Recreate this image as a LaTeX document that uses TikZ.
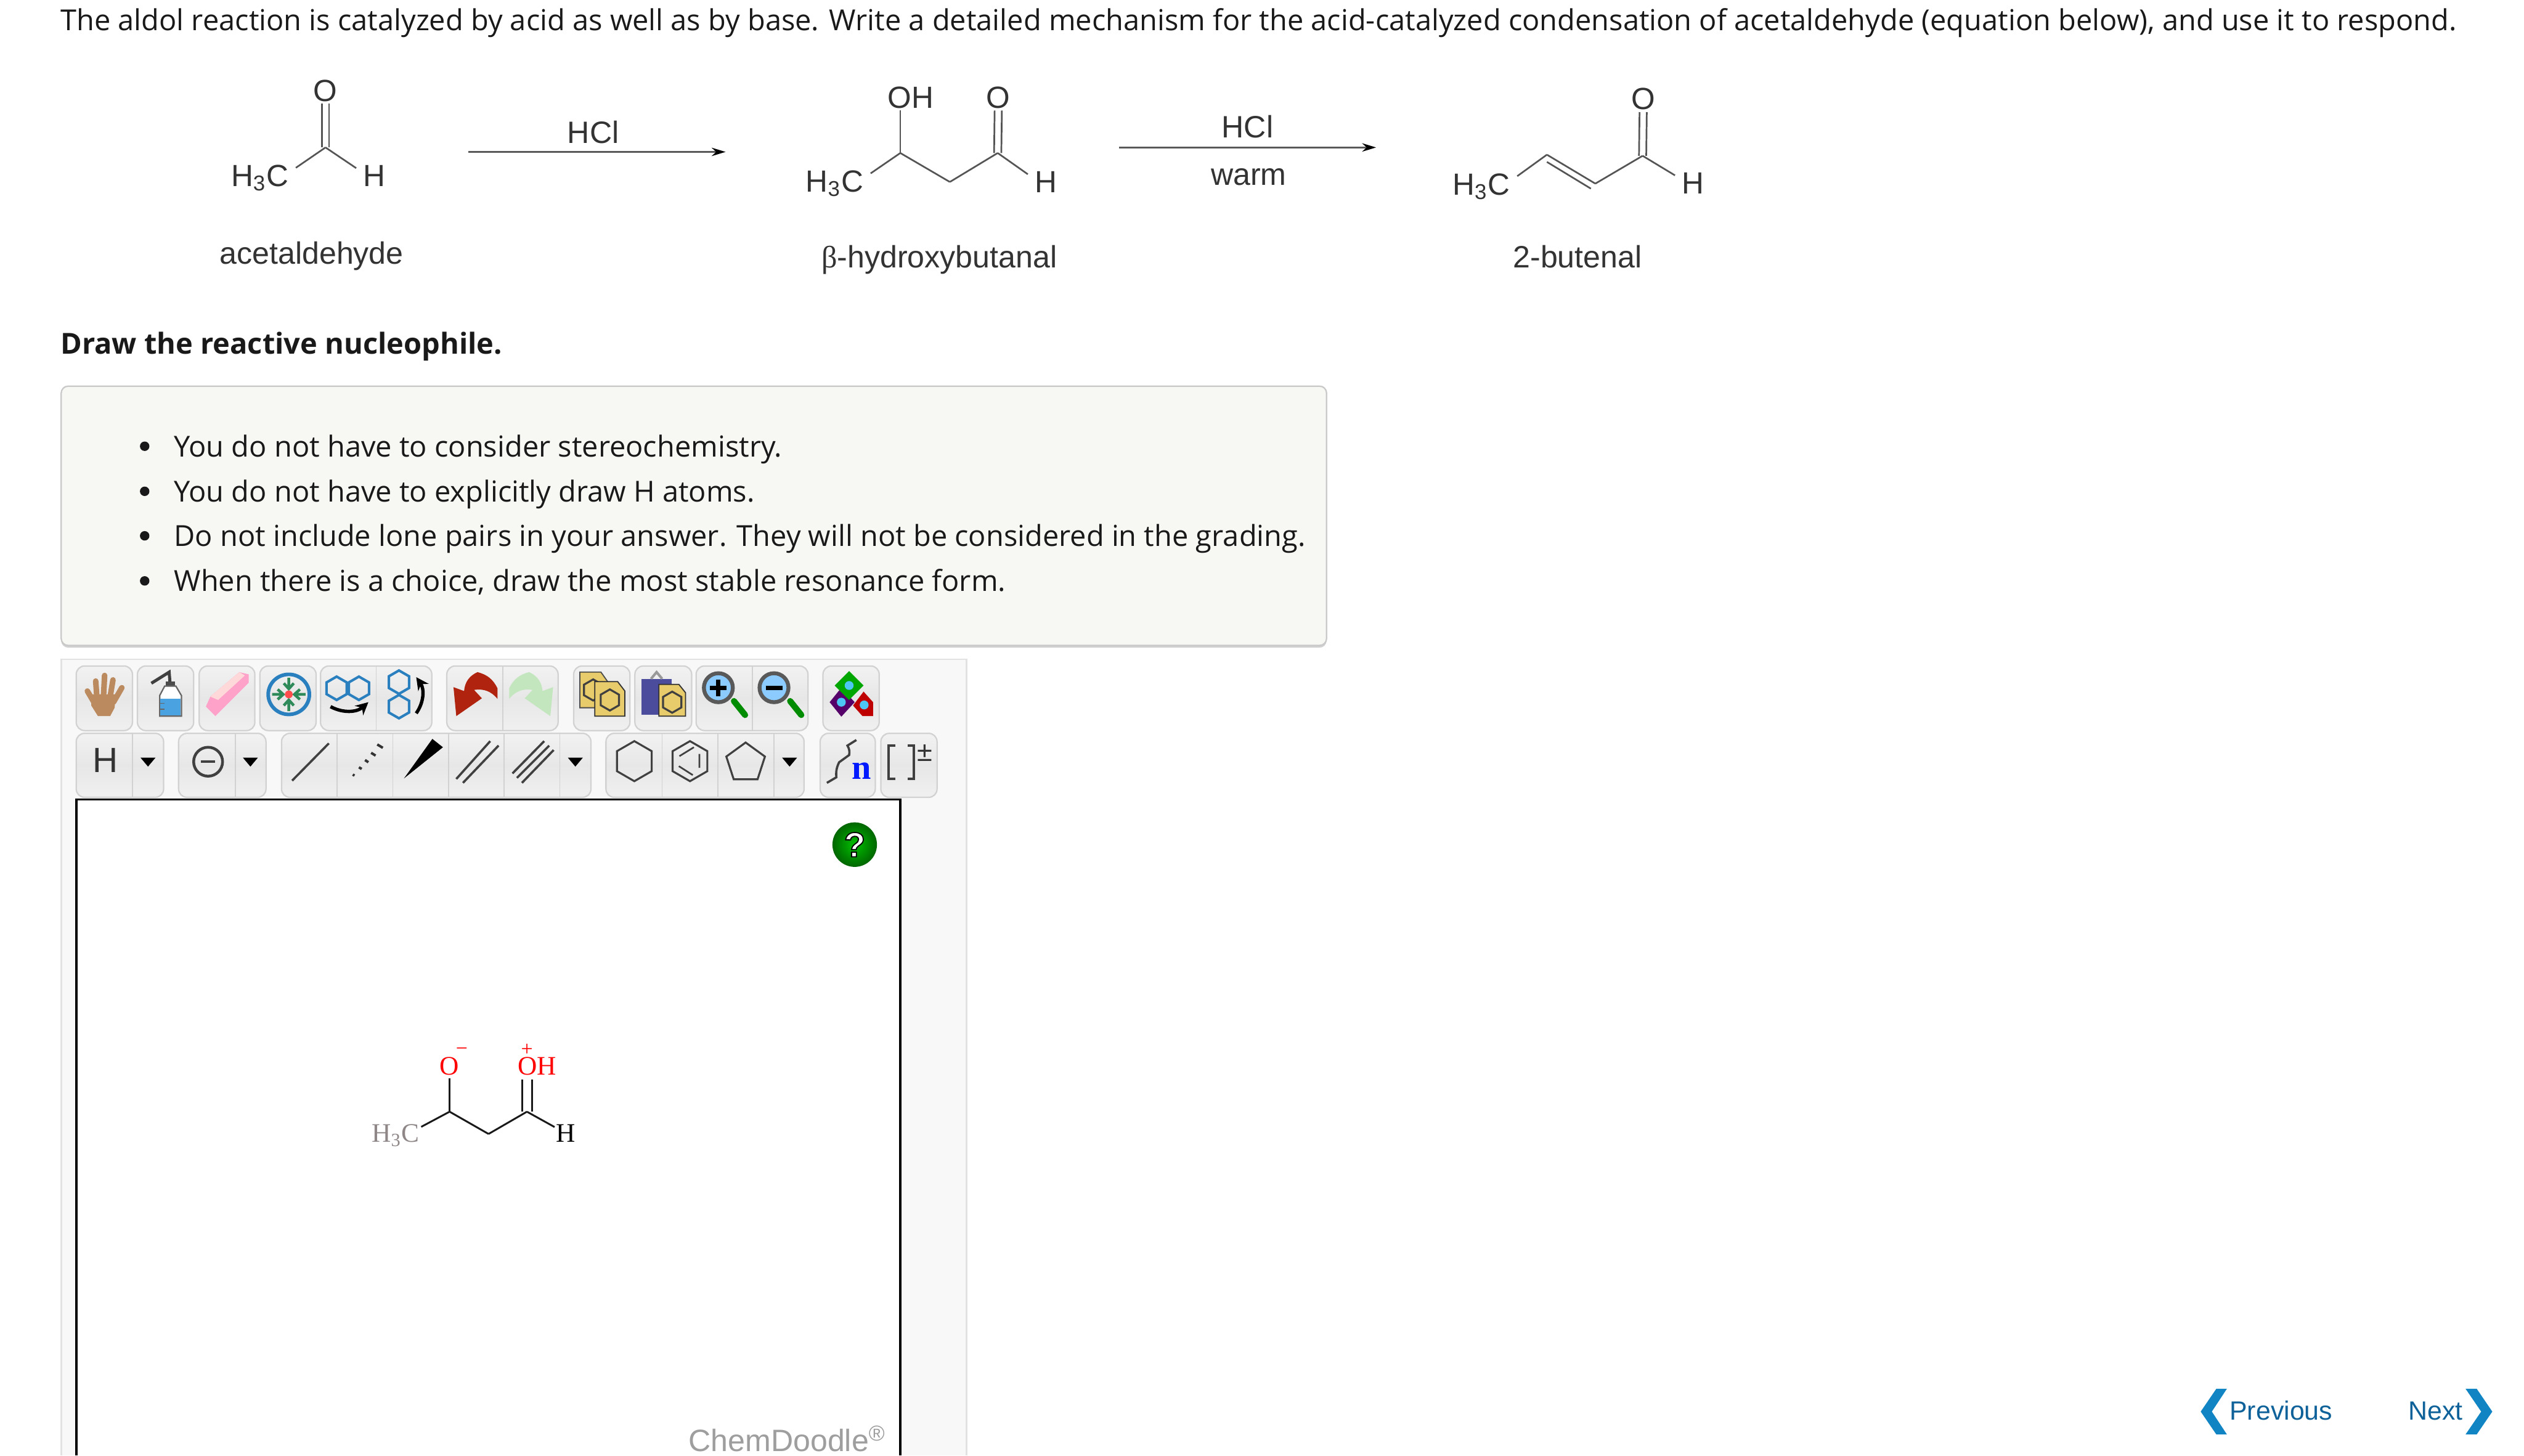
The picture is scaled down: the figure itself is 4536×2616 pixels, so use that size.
\documentclass[tikz,border=0pt]{standalone}
\usepackage{fontspec}
\setmainfont{Open Sans}
\newfontfamily\chemfont{Liberation Sans}
\newfontfamily\doodlefont{Liberation Serif}
\usepackage{xcolor}
\usetikzlibrary{arrows.meta, shapes.geometric, shadows}

\definecolor{notefill}{HTML}{F7F7F3}
\definecolor{noteedge}{HTML}{C9C9C9}
\definecolor{panelfill}{HTML}{F8F8F8}
\definecolor{paneledge}{HTML}{E2E2E2}
\definecolor{btnedge}{HTML}{D2D2D2}
\definecolor{btntop}{HTML}{F2F2F2}
\definecolor{btnmid}{HTML}{E7E7E7}
\definecolor{btnbot}{HTML}{F0F0F0}
\definecolor{bondgray}{HTML}{555555}
\definecolor{methylgray}{HTML}{8F8787}
\definecolor{skinbrown}{HTML}{BC8A5F}
\definecolor{ringblue}{HTML}{2A7FBF}
\definecolor{wheelgreen}{HTML}{2F8A5A}
\definecolor{undored}{HTML}{B0230F}
\definecolor{redogreen}{HTML}{C3E6BF}
\definecolor{docyellow}{HTML}{E8CB6A}
\definecolor{bottleblue}{HTML}{4AA3E0}
\definecolor{navblue}{HTML}{1184C4}
\definecolor{navtext}{HTML}{0E6299}

\begin{document}
\begin{tikzpicture} [x = 0.2pt, y = -0.2pt,
          atom/.style = {anchor = base, inner xsep = 2.4pt, inner ysep = -1.2pt,
              font = \chemfont\fontsize{11}{13}\selectfont, text = black!80},
          oxygen/.style = {atom, inner ysep = 0.6pt},
          caption/.style = {anchor = base, inner sep = 0pt,
              font = \chemfont\fontsize{11.1}{13}\selectfont, text = black!80},
          bond/.style = {draw = bondgray, line width = 0.6pt},
          rxnarrow/.style = {draw = black!65, line width = 0.7pt,
              -{Stealth[length = 5pt, width = 3pt, color = black]}},
          bodytext/.style = {anchor = base west, inner sep = 0pt,
              font = \fontsize{10.4}{13}\selectfont, text = black!90},
          dot/.style = {circle, fill = black!90, inner sep = 0pt, minimum size = 3.4pt},
          toolbtn/.style = {draw = btnedge, line width = 0.5pt, rounded corners = 3pt,
              top color = btntop, bottom color = btnbot, middle color = btnmid},
          divider/.style = {draw = btnedge, line width = 0.4pt},
          drop/.style = {isosceles triangle, isosceles triangle apex angle = 80,
              shape border rotate = 270, fill = black, inner sep = 0pt, minimum size = 3.2pt},
          icon/.style = {draw = black!75, line width = 0.8pt},
          poly/.style = {regular polygon, draw = black!75, line width = 0.7pt, inner sep = 0pt},
          hexring/.style = {poly, regular polygon sides = 6, regular polygon rotate = 30},
          tinyring/.style = {hexring, draw = ringblue, line width = 0.9pt, minimum size = 8.4pt},
          docring/.style = {hexring, minimum size = 7.6pt},
          doodleatom/.style = {anchor = base, inner xsep = 0.4pt, inner ysep = -1pt,
              font = \doodlefont\fontsize{9.6}{11}\selectfont},
          doodlecharge/.style = {anchor = center, inner sep = 0pt, text = red,
              font = \doodlefont\fontsize{7.5}{8}\selectfont},
          doodlebond/.style = {draw = black!90, line width = 0.65pt}
          ]

          \useasboundingbox (0,0) rectangle (4536,2616);
          \fill [white] (0,0) rectangle (4536,2616);

          % Question
          \node (question) [bodytext] at (108,55) {The aldol reaction is catalyzed by acid as well as by base. Write a detailed mechanism for the acid-catalyzed condensation of acetaldehyde (equation below), and use it to respond.};

          % Acetaldehyde
          \coordinate (a1c) at (585,265);
          \node (a1o) [oxygen] at (585,182) {O};
          \node (a1me) [atom] at (467,335) {H\textsubscript{3}C};
          \node (a1h) [atom] at (673,335) {H};
          \node (a1name) [caption] at (560,474) {acetaldehyde};
          \path [bond]
            ([xshift = -1.3pt]a1c) edge ([xshift = -1.3pt]a1o.south)
            ([xshift = 1.3pt]a1c) edge ([xshift = 1.3pt]a1o.south)
            (a1c) edge (a1me.north east)
            (a1c) edge (a1h.north west);

          % First arrow
          \coordinate (r1s) at (842,273);
          \coordinate (r1e) at (1304,273);
          \draw [rxnarrow] (r1s) -- (r1e);
          \node (r1top) [caption] at (1066,257) {HCl};

          % Beta hydroxybutanal
          \coordinate (a2c1) at (1618,275);
          \coordinate (a2c2) at (1707,327);
          \coordinate (a2c3) at (1793,275);
          \node (a2oh) [oxygen] at (1637,194) {OH};
          \node (a2o) [oxygen] at (1794,194) {O};
          \node (a2me) [atom] at (1500,345) {H\textsubscript{3}C};
          \node (a2h) [atom] at (1880,346) {H};
          \node (a2name) [caption] at (1688,481) {{\doodlefont β}-hydroxybutanal};
          \path [bond]
            (a2c1) edge (a2me.north east)
            (a2c1) edge (a2c2)
            (a2c2) edge (a2c3)
            (a2c3) edge (a2h.north west)
            (a2c1) edge (a2c1 |- a2oh.south)
            ([xshift = -1.3pt]a2c3) edge ([xshift = -1.3pt]a2o.south)
            ([xshift = 1.3pt]a2c3) edge ([xshift = 1.3pt]a2o.south);

          % Second arrow
          \coordinate (r2s) at (2011,265);
          \coordinate (r2e) at (2473,265);
          \draw [rxnarrow] (r2s) -- (r2e);
          \node (r2top) [caption] at (2242,248) {HCl};
          \node (r2bot) [caption] at (2244,333) {warm};

          % 2-butenal
          \coordinate (a3c1) at (2780,278);
          \coordinate (a3c2) at (2867,330);
          \coordinate (a3c3) at (2952,280);
          \coordinate (a3d1) at (2780,291);
          \coordinate (a3d2) at (2859,339);
          \node (a3o) [oxygen] at (2953,197) {O};
          \node (a3me) [atom] at (2662,350) {H\textsubscript{3}C};
          \node (a3h) [atom] at (3043,348) {H};
          \node (a3name) [caption] at (2835,481) {2-butenal};
          \path [bond]
            (a3c1) edge (a3me.north east)
            (a3c1) edge (a3c2)
            (a3d1) edge (a3d2)
            (a3c2) edge (a3c3)
            (a3c3) edge (a3h.north west)
            ([xshift = -1.3pt]a3c3) edge ([xshift = -1.3pt]a3o.south)
            ([xshift = 1.3pt]a3c3) edge ([xshift = 1.3pt]a3o.south);

          % Prompt
          \node (prompt) [bodytext, font = \bfseries\fontsize{10.4}{13}\selectfont] at (108,636) {Draw the reactive nucleophile.};

          % Note box
          \draw [draw = noteedge, fill = notefill, line width = 0.5pt, rounded corners = 2.5pt,
            drop shadow = {shadow xshift = 0pt, shadow yshift = -0.8pt, fill = black, opacity = 0.18}]
            (110,694) rectangle (2384,1160);
          \node (d1) [dot] at (260,802) {};
          \node (d2) [dot] at (260,883) {};
          \node (d3) [dot] at (260,963) {};
          \node (d4) [dot] at (260,1044) {};
          \node (l1) [bodytext] at (312,821) {You do not have to consider stereochemistry.};
          \node (l2) [bodytext] at (312,902) {You do not have to explicitly draw H atoms.};
          \node (l3) [bodytext] at (312,982) {Do not include lone pairs in your answer. They will not be considered in the grading.};
          \node (l4) [bodytext] at (312,1063) {When there is a choice, draw the most stable resonance form.};

          % Sketcher panel
          \fill [panelfill] (110,1185) rectangle (1737,2616);
          \draw [draw = paneledge, line width = 0.6pt] (110,2616) -- (110,1185) -- (1737,1185) -- (1737,2616);

          % Toolbar row 1
          \draw [toolbtn] (137,1197) rectangle (238,1313);
          \draw [toolbtn] (247,1197) rectangle (348,1313);
          \draw [toolbtn] (358,1197) rectangle (458,1313);
          \draw [toolbtn] (467,1197) rectangle (568,1313);
          \draw [toolbtn] (576,1197) rectangle (776,1313);
          \draw [divider] (676,1197) -- (676,1313);
          \draw [toolbtn] (803,1197) rectangle (1003,1313);
          \draw [divider] (904,1197) -- (904,1313);
          \draw [toolbtn] (1031,1197) rectangle (1132,1313);
          \draw [toolbtn] (1141,1197) rectangle (1243,1313);
          \draw [toolbtn] (1251,1197) rectangle (1452,1313);
          \draw [divider] (1352,1197) -- (1352,1313);
          \draw [toolbtn] (1479,1197) rectangle (1580,1313);

          % Toolbar row 2
          \draw [toolbtn] (137,1318) rectangle (294,1433);
          \draw [divider] (238,1318) -- (238,1433);
          \draw [toolbtn] (321,1318) rectangle (478,1433);
          \draw [divider] (423,1318) -- (423,1433);
          \draw [toolbtn] (506,1318) rectangle (1062,1433);
          \draw [divider] (606,1318) -- (606,1433);
          \draw [divider] (706,1318) -- (706,1433);
          \draw [divider] (806,1318) -- (806,1433);
          \draw [divider] (906,1318) -- (906,1433);
          \draw [divider] (1006,1318) -- (1006,1433);
          \draw [toolbtn] (1089,1318) rectangle (1445,1433);
          \draw [divider] (1190,1318) -- (1190,1433);
          \draw [divider] (1290,1318) -- (1290,1433);
          \draw [divider] (1391,1318) -- (1391,1433);
          \draw [toolbtn] (1474,1318) rectangle (1573,1433);
          \draw [toolbtn] (1583,1318) rectangle (1684,1433);

          % Hand
          \fill [skinbrown] (164,1248) -- (208,1248) -- (206,1272) -- (198,1287) -- (176,1287) -- (164,1268) -- cycle;
          \draw [skinbrown, line width = 2pt, line cap = round]
            (170,1264) -- (157,1242)
            (174,1252) -- (172,1224)
            (186,1252) -- (188,1214)
            (198,1252) -- (203,1222)
            (204,1262) -- (219,1236);

          % Wash bottle
          \draw [black!75, line width = 1.1pt] (272,1228) -- (304,1208) -- (306,1233);
          \fill [black!70] (298,1225) rectangle (314,1235);
          \draw [fill = white, draw = black!60, line width = 0.5pt] (296,1233) -- (316,1233) -- (326,1250) -- (326,1287) -- (287,1287) -- (287,1250) -- cycle;
          \fill [bottleblue] (288,1256) rectangle (325,1286);
          \draw [black!60, line width = 0.4pt] (288,1264) -- (296,1264) (288,1275) -- (296,1275);

          % Eraser
          \fill [pink!85!magenta] (370,1270) -- (387,1287) -- (447,1227) -- (447,1212) -- (430,1208) -- (378,1252) -- cycle;
          \fill [pink!60!white] (378,1252) -- (430,1208) -- (440,1214) -- (392,1258) -- cycle;

          % Wheel
          \draw [ringblue, line width = 1.3pt] (519,1248) circle [x radius = 37, y radius = 36];
          \draw [wheelgreen, line width = 1pt]
            (519,1218) -- (519,1238)
            (519,1258) -- (519,1278)
            (489,1248) -- (509,1248)
            (529,1248) -- (549,1248)
            (510,1228) -- (519,1238) -- (528,1228)
            (510,1268) -- (519,1258) -- (528,1268)
            (499,1239) -- (509,1248) -- (499,1257)
            (539,1239) -- (529,1248) -- (539,1257);
          \fill [red!70!white] (519,1248) circle [radius = 7];

          % Rotate tools
          \node (t1) [tinyring] at (605,1237) {};
          \node (t2) [tinyring] at (645,1237) {};
          \draw [black, line width = 1.2pt, -{Stealth[length = 4.5pt, width = 4.5pt]}] (594,1270) to [bend right = 35] (662,1262);
          \node (t3) [tinyring] at (717,1226) {};
          \node (t4) [tinyring] at (717,1270) {};
          \draw [black, line width = 1.2pt, -{Stealth[length = 4.5pt, width = 4.5pt]}] (748,1282) to [bend right = 35] (748,1217);

          % Undo and redo
          \fill [undored] (820,1287) -- (815,1235) -- (834,1242) to [bend left = 30] (858,1208)
            to [bend left = 25] (894,1237) -- (894,1256) to [bend right = 30] (852,1240) -- (866,1255) -- cycle;
          \fill [redogreen] (989,1287) -- (994,1235) -- (975,1242) to [bend right = 30] (951,1208)
            to [bend right = 25] (915,1237) -- (915,1256) to [bend left = 30] (957,1240) -- (943,1255) -- cycle;

          % Copy and paste
          \draw [fill = docyellow, draw = black!70, line width = 0.4pt] (1042,1272) -- (1042,1208) -- (1080,1208) -- (1092,1225) -- (1092,1272) -- cycle;
          \node (c1) [docring] at (1066,1240) {};
          \draw [fill = docyellow, draw = black!80, line width = 0.4pt] (1069,1287) -- (1069,1225) -- (1110,1225) -- (1123,1242) -- (1123,1287) -- cycle;
          \node (c2) [docring] at (1096,1258) {};
          \fill [blue!45!black!70!white] (1153,1220) rectangle (1207,1285);
          \draw [black!40, line width = 0.9pt] (1170,1220) -- (1180,1208) -- (1190,1220);
          \draw [fill = docyellow, draw = black!80, line width = 0.4pt] (1184,1287) -- (1184,1230) -- (1220,1230) -- (1232,1245) -- (1232,1287) -- cycle;
          \node (c3) [docring] at (1208,1262) {};

          % Zoom in and zoom out
          \draw [green!55!black, line width = 2.2pt, line cap = round] (1319,1260) -- (1339,1285);
          \draw [fill = blue!45!cyan!45!white, draw = black!65, line width = 1.4pt] (1291,1236) circle [radius = 26];
          \draw [black, line width = 1.6pt] (1276,1236) -- (1306,1236) (1291,1221) -- (1291,1251);
          \draw [green!55!black, line width = 2.2pt, line cap = round] (1420,1260) -- (1440,1285);
          \draw [fill = blue!45!cyan!45!white, draw = black!65, line width = 1.4pt] (1391,1236) circle [radius = 26];
          \draw [black, line width = 1.6pt] (1376,1236) -- (1406,1236);

          % Colored atoms
          \fill [blue!55!red!75!black] (1491,1262) -- (1512,1236) -- (1536,1262) -- (1512,1288) -- cycle;
          \fill [green!65!black] (1526,1206) -- (1552,1232) -- (1526,1258) -- (1500,1232) -- cycle;
          \fill [red!75!black] (1533,1268) -- (1552,1243) -- (1569,1262) -- (1569,1287) -- (1550,1287) -- cycle;
          \fill [cyan!70!white] (1526,1232) circle [radius = 8] (1512,1262) circle [radius = 8] (1553,1267) circle [radius = 8];

          % H and charge tools
          \node (hsel) [anchor = base, inner sep = 0pt, font = \chemfont\fontsize{12.6}{14}\selectfont, text = black!80] at (189,1388) {H};
          \node (drop1) [drop] at (266,1368) {};
          \draw [icon, line width = 1pt] (374,1369) circle [radius = 26];
          \draw [icon, line width = 1pt] (361,1369) -- (387,1369);
          \node (drop2) [drop] at (450,1368) {};

          % Bond tools
          \draw [icon] (525,1403) -- (591,1336);
          \draw [black!80, line width = 0.9pt]
            (634,1392) -- (637,1394)
            (645,1379) -- (650,1382)
            (656,1366) -- (662,1370)
            (667,1353) -- (675,1358)
            (678,1338) -- (688,1344);
          \fill [black] (726,1399) -- (777,1328) -- (796,1343) -- cycle;
          \draw [icon] (820,1400) -- (881,1332) (832,1407) -- (896,1340);
          \draw [icon] (921,1390) -- (978,1332) (929,1398) -- (987,1340) (938,1407) -- (995,1348);
          \node (drop3) [drop] at (1034,1368) {};

          % Ring tools
          \node (hexa) [hexring, minimum size = 14.4pt] at (1140,1368) {};
          \node (benz) [hexring, minimum size = 14.4pt] at (1240,1368) {};
          \draw [black!75, line width = 0.6pt] (1221,1359) -- (1247,1343) (1257,1355) -- (1257,1380) (1220,1377) -- (1245,1393);
          \node (penta) [poly, regular polygon sides = 5, minimum size = 14.6pt] at (1340,1371) {};
          \node (drop4) [drop] at (1419,1368) {};

          % Repeat unit and bracket tools
          \draw [icon] (1486,1407) -- (1503,1397) to [bend left = 15] (1508,1370) -- (1526,1357) to [bend right = 20] (1523,1340) -- (1539,1330);
          \node (nlabel) [anchor = base, inner sep = 0pt, font = \doodlefont\bfseries\fontsize{12.5}{14}\selectfont, text = blue!90!cyan] at (1548,1400) {n};
          \draw [icon] (1609,1340) -- (1597,1340) -- (1597,1400) -- (1609,1400);
          \draw [icon] (1631,1340) -- (1642,1340) -- (1642,1400) -- (1631,1400);
          \node (pm) [anchor = center, inner sep = 0pt, font = \chemfont\fontsize{10}{12}\selectfont, text = black!80] at (1662,1353) {±};

          % Canvas
          \fill [white] (137,1437) rectangle (1618,2616);
          \draw [black, line width = 0.8pt] (137,2616) -- (137,1437) -- (1618,1437) -- (1618,2616);

          % Help button
          \shade [inner color = green!75!black, outer color = green!40!black] (1536,1518) circle [radius = 40];
          \node (help) [inner sep = 0pt, font = \chemfont\bfseries\fontsize{12.5}{13}\selectfont, text = white] at (1536,1518) {\special{pdf:code 2 Tr 0.4 w 0 0 0 RG}?\special{pdf:code 0 Tr}};

          % Drawn molecule
          \coordinate (p1c1) at (808,1998);
          \coordinate (p1c2) at (878,2038);
          \coordinate (p1c3) at (947,1998);
          \coordinate (p1d1) at (939,1940);
          \coordinate (p1d2) at (956,1940);
          \node (p1o) [doodleatom, inner ysep = 1pt, text = red] at (808,1932) {O};
          \node (p1oh) [doodleatom, anchor = base west, inner xsep = 0pt, inner ysep = 1pt, text = red] at (930,1932) {OH};
          \node (p1minus) [doodlecharge] at (830,1890) {−};
          \node (p1plus) [doodlecharge] at (947,1887) {+};
          \node (p1me) [doodleatom, text = methylgray] at (711,2053) {H\textsubscript{3}C};
          \node (p1h) [doodleatom] at (1017,2053) {H};
          \path [doodlebond]
            (p1c1) edge (p1o.south)
            (p1c1) edge (p1me.north east)
            (p1c1) edge (p1c2)
            (p1c2) edge (p1c3)
            (p1c3) edge (p1h.north west)
            (p1c3 -| p1d1) edge (p1d1)
            (p1c3 -| p1d2) edge (p1d2);

          % Watermark
          \node (mark) [anchor = base, inner sep = 0pt, font = \chemfont\fontsize{11.1}{13}\selectfont, text = black!38] at (1415,2609) {ChemDoodle\textsuperscript{®}};

          % Navigation
          \fill [navblue] (3983,2496) -- (4002,2496) -- (3975,2537) -- (4002,2578) -- (3983,2578) -- (3955,2537) -- cycle;
          \node (prev) [anchor = base west, inner sep = 0pt, font = \chemfont\fontsize{9.5}{11}\selectfont, text = navtext] at (4006,2552) {Previous};
          \node (next) [anchor = base east, inner sep = 0pt, font = \chemfont\fontsize{9.5}{11}\selectfont, text = navtext] at (4427,2552) {Next};
          \fill [navblue] (4451,2496) -- (4431,2496) -- (4459,2537) -- (4431,2578) -- (4451,2578) -- (4479,2537) -- cycle;

\end{tikzpicture}
\end{document}
